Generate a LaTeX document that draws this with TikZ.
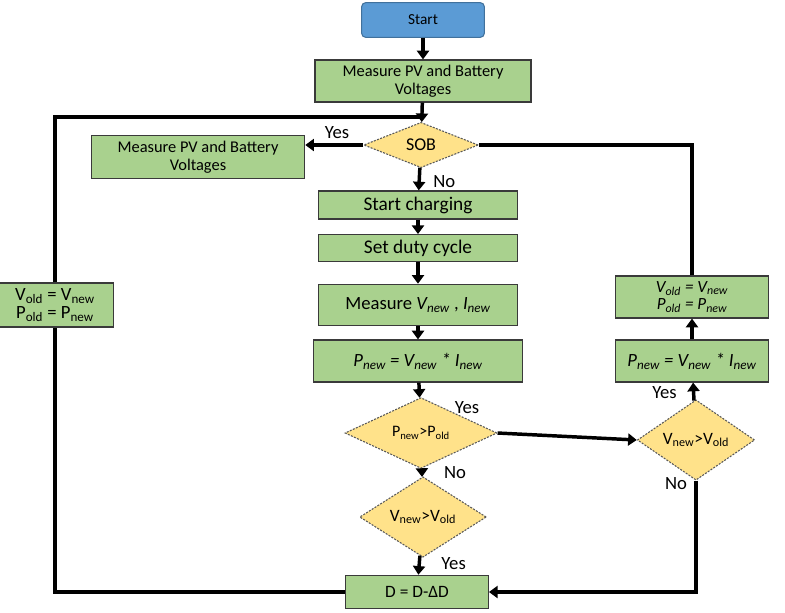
\documentclass[tikz,border=0pt]{standalone}
\usepackage{fontspec}
\setmainfont{Carlito}
\usetikzlibrary{shapes.geometric,arrows.meta}
\definecolor{boxgreen}{HTML}{A9D18E}
\definecolor{boxedge}{HTML}{3A3A3A}
\definecolor{decyellow}{HTML}{FFE28A}
\definecolor{startblue}{HTML}{5B9BD5}
\definecolor{startedge}{HTML}{41719C}

\begin{document}
\begin{tikzpicture}[x=0.75pt,y=-0.75pt,
    flow/.style={-{Triangle[length=6.5pt,width=9pt]},line width=2.6pt},
    plain/.style={line width=2.6pt},
    greenbox/.style={draw=boxedge,fill=boxgreen,line width=0.9pt,align=center,inner sep=1pt,font=\fontsize{12.3}{13.5}\selectfont},
    decision/.style={diamond,draw=gray!70!black,dash pattern=on 1.5pt off 1pt,line width=0.8pt,fill=decyellow,inner sep=0pt,font=\fontsize{13}{15}\selectfont},
    lbl/.style={font=\fontsize{14}{16}\selectfont}]

\useasboundingbox (0,0) rectangle (785,612);

% main column
\node (start) [draw=startedge,fill=startblue,rounded corners=3pt,line width=0.8pt,minimum width=92pt,minimum height=26pt,font=\fontsize{11.5}{13}\selectfont] at (423,20) {Start};
\node (meas) [greenbox,minimum width=162pt,minimum height=31.5pt] at (423,81) {Measure PV and Battery\\Voltages};
\node (sob) [decision,minimum width=86pt,minimum height=34pt,font=\fontsize{13.5}{15}\selectfont] at (421,145) {SOB};
\node (measl) [greenbox,minimum width=160pt,minimum height=32pt] at (198,157) {Measure PV and Battery\\Voltages};
\node (charge) [greenbox,minimum width=149pt,minimum height=21pt,font=\fontsize{14.5}{16}\selectfont] at (418,205) {Start charging};
\node (duty) [greenbox,minimum width=149pt,minimum height=20pt,font=\fontsize{14.5}{16}\selectfont] at (418,248) {Set duty cycle};
\node (vi) [greenbox,minimum width=149pt,minimum height=31pt,font=\fontsize{14}{16}\selectfont] at (418,305) {Measure \textit{V\textsubscript{new}} , \textit{I\textsubscript{new}}};
\node (pw) [greenbox,minimum width=157pt,minimum height=31.5pt,font=\fontsize{14}{16}\selectfont] at (418,361) {\textit{P\textsubscript{new} = V\textsubscript{new} * I\textsubscript{new}}};
\node (pp) [decision,minimum width=114pt,minimum height=41pt,font=\fontsize{12}{14}\selectfont] at (421,433) {P\textsubscript{new}>P\textsubscript{old}};
\node (vv) [decision,minimum width=95pt,minimum height=42pt] at (423,517) {V\textsubscript{new}>V\textsubscript{old}};
\node (dd) [greenbox,minimum width=107pt,minimum height=25pt,font=\fontsize{13}{15}\selectfont] at (417,592) {D = D-ΔD};

% right column
\node (rv) [decision,minimum width=88pt,minimum height=45pt] at (696,440) {V\textsubscript{new}>V\textsubscript{old}};
\node (rp) [greenbox,minimum width=115pt,minimum height=31.5pt,font=\fontsize{14}{16}\selectfont] at (692,361) {\textit{P\textsubscript{new} = V\textsubscript{new} * I\textsubscript{new}}};
\node (ru) [greenbox,minimum width=115pt,minimum height=31.5pt,font=\fontsize{12.8}{13}\selectfont] at (692,297) {\textit{V\textsubscript{old} = V\textsubscript{new}}\\\textit{P\textsubscript{old} = P\textsubscript{new}}};

% left column
\node (lu) [greenbox,minimum width=88pt,minimum height=33pt,font=\fontsize{14}{14}\selectfont] at (55,305) {V\textsubscript{old} = V\textsubscript{new}\\P\textsubscript{old} = P\textsubscript{new}};
\coordinate (join) at (423,117);

% connectors
\draw[flow] (start) -- (meas);
\draw[flow] (meas) -- (sob);
\draw[flow] (sob.west) -- node[lbl,above,pos=0.45] {Yes} (sob.west -| measl.east);
\draw[flow] (sob) -- node[lbl,right,pos=0.6,xshift=6pt] {No} (charge);
\draw[flow] (charge) -- (duty);
\draw[flow] (duty) -- (vi);
\draw[flow] (vi) -- (pw);
\draw[flow] (pw) -- (pp);
\draw[flow] (pp) -- node[lbl,right,pos=0.45,xshift=12pt] {No} (vv);
\draw[flow] (vv) -- node[lbl,right,pos=0.4,xshift=12pt] {Yes} (dd);
\draw[flow] (pp.east) -- (rv.west);
\draw[flow] (rv) -- node[lbl,left,pos=0.45,xshift=-8pt] {Yes} (rp);
\draw[flow] (rp) -- (ru);
\draw[plain] (ru.north) |- (sob.east);
\draw[flow] (rv.south) |- (dd.east);
\draw[plain] (dd.west) -| (lu.south);
\draw[plain] (lu.north) |- (join);
\node[lbl] at (467,408) {Yes};
\node[lbl] at (676,484) {No};

\end{tikzpicture}
\end{document}
